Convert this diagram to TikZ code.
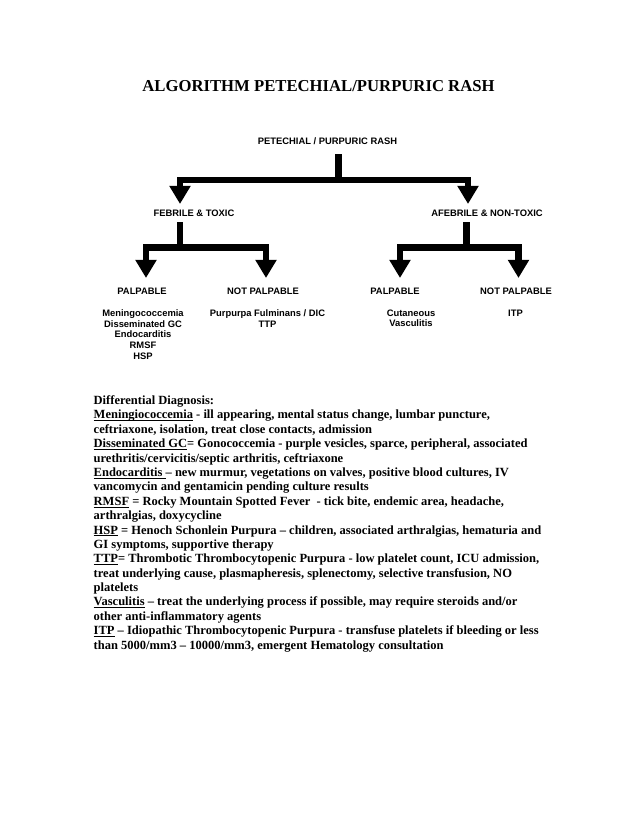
\documentclass[tikz,border=0pt]{standalone}
\usepackage{fontspec}
\setmainfont{Liberation Serif}
\newfontfamily\arialfont{Liberation Sans}
\usetikzlibrary{arrows.meta}
\newcommand\myul[1]{\leavevmode\setbox0\hbox{#1}\rlap{\rule[-1.9pt]{\wd0}{0.6pt}}\box0\relax}
\tikzset{
  lbl/.style={font=\arialfont\bfseries\fontsize{9}{10.3}\selectfont, inner sep=0pt, anchor=base},
  lst/.style={font=\arialfont\bfseries\fontsize{9}{10.3}\selectfont, inner sep=0pt, anchor=north, align=center},
  tree/.style={line width=5.8pt, line join=miter, line cap=butt, -{Triangle[width=19.5pt,length=17.5pt]}},
}
\begin{document}
\begin{tikzpicture}[x=0.9592pt,y=-0.9592pt]
\useasboundingbox[fill=white] (0,0) rectangle (638,826);
% title
\node[font=\bfseries\fontsize{16}{19}\selectfont, inner sep=0pt, anchor=base] (title) at (318.5,91.7) {ALGORITHM PETECHIAL/PURPURIC RASH};
% tree labels
\node[lbl] (root) at (327.5,144) {PETECHIAL / PURPURIC RASH};
\node[lbl] (feb) at (194,216.5) {FEBRILE \& TOXIC};
\node[lbl] (afeb) at (487,216.5) {AFEBRILE \& NON-TOXIC};
\node[lbl] (p1) at (142,294.3) {PALPABLE};
\node[lbl] (np1) at (263,294.3) {NOT PALPABLE};
\node[lbl] (p2) at (395,294.3) {PALPABLE};
\node[lbl] (np2) at (516,294.3) {NOT PALPABLE};
\node[lst] (l1) at (143,309.3) {Meningococcemia\\Disseminated GC\\Endocarditis\\RMSF\\HSP};
\node[lst] (l2) at (267.5,309.3) {Purpurpa Fulminans / DIC\\TTP};
\node[lst] (l3) at (411,309.3) {Cutaneous\\Vasculitis};
\node[lbl] (l4) at (515.5,316) {ITP};
% connectors
\coordinate (s0) at (338.5,154);
\coordinate (j0) at (338.5,180);
\coordinate (t1) at (180,204);
\coordinate (t2) at (468,204);
\draw[tree] (s0) -- (j0) -| (t1);
\draw[tree] (s0) -- (j0) -| (t2);
\coordinate (s1) at (180,222);
\coordinate (j1) at (180,247.5);
\coordinate (t11) at (146,278);
\coordinate (t12) at (266,278);
\draw[tree] (s1) -- (j1) -| (t11);
\draw[tree] (s1) -- (j1) -| (t12);
\coordinate (s2) at (466.5,222);
\coordinate (j2) at (466.5,247.5);
\coordinate (t21) at (400,278);
\coordinate (t22) at (518.5,278);
\draw[tree] (s2) -- (j2) -| (t21);
\draw[tree] (s2) -- (j2) -| (t22);
% differential diagnosis
\node[font=\bfseries\fontsize{12}{13.8}\selectfont, inner sep=0pt, anchor=north west, align=left] (dd) at (93.5,395.5) {%
Differential Diagnosis:\\
\myul{Meningiococcemia} - ill appearing, mental status change, lumbar puncture,\\
ceftriaxone, isolation, treat close contacts, admission\\
\myul{Disseminated GC}= Gonococcemia - purple vesicles, sparce, peripheral, associated\\
urethritis/cervicitis/septic arthritis, ceftriaxone\\
\myul{Endocarditis\ }– new murmur, vegetations on valves, positive blood cultures, IV\\
vancomycin and gentamicin pending culture results\\
\myul{RMSF} = Rocky Mountain Spotted Fever\ \ - tick bite, endemic area, headache,\\
arthralgias, doxycycline\\
\myul{HSP} = Henoch Schonlein Purpura – children, associated arthralgias, hematuria and\\
GI symptoms, supportive therapy\\
\myul{TTP}= Thrombotic Thrombocytopenic Purpura - low platelet count, ICU admission,\\
treat underlying cause, plasmapheresis, splenectomy, selective transfusion, NO\\
platelets\\
\myul{Vasculitis} – treat the underlying process if possible, may require steroids and/or\\
other anti-inflammatory agents\\
\myul{ITP} – Idiopathic Thrombocytopenic Purpura - transfuse platelets if bleeding or less\\
than 5000/mm3 – 10000/mm3, emergent Hematology consultation};
\end{tikzpicture}
\end{document}
